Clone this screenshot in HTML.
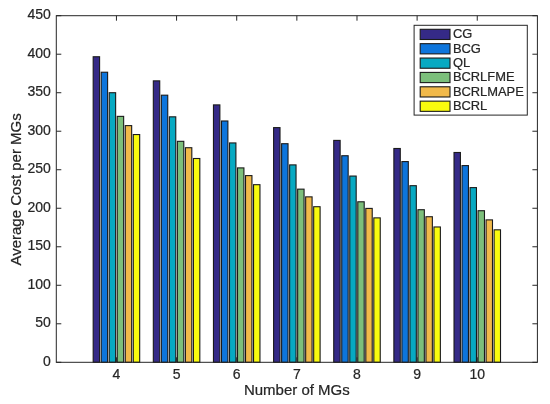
<!DOCTYPE html><html><head><meta charset="utf-8"><style>html,body{margin:0;padding:0;background:#fff;}svg{display:block;}text{font-family:"Liberation Sans", Arial, Helvetica, sans-serif;fill:#262626;stroke:#262626;stroke-width:0.22px;}</style></head><body>
<svg width="550" height="404" viewBox="0 0 550 404">
<rect x="0" y="0" width="550" height="404" fill="#fff"/>
<rect x="93.18" y="56.75" width="6.41" height="305.55" fill="#352a87" stroke="#1a1a1a" stroke-width="1.1"/>
<rect x="101.20" y="72.23" width="6.41" height="290.07" fill="#0d75dc" stroke="#1a1a1a" stroke-width="1.1"/>
<rect x="109.22" y="92.72" width="6.41" height="269.58" fill="#07a9c2" stroke="#1a1a1a" stroke-width="1.1"/>
<rect x="117.24" y="116.37" width="6.41" height="245.93" fill="#7cbf7b" stroke="#1a1a1a" stroke-width="1.1"/>
<rect x="125.26" y="125.61" width="6.41" height="236.69" fill="#f1b94a" stroke="#1a1a1a" stroke-width="1.1"/>
<rect x="133.28" y="134.55" width="6.41" height="227.75" fill="#f9fb0e" stroke="#1a1a1a" stroke-width="1.1"/>
<rect x="153.32" y="80.86" width="6.41" height="281.44" fill="#352a87" stroke="#1a1a1a" stroke-width="1.1"/>
<rect x="161.34" y="95.19" width="6.41" height="267.11" fill="#0d75dc" stroke="#1a1a1a" stroke-width="1.1"/>
<rect x="169.36" y="116.83" width="6.41" height="245.47" fill="#07a9c2" stroke="#1a1a1a" stroke-width="1.1"/>
<rect x="177.38" y="141.32" width="6.41" height="220.98" fill="#7cbf7b" stroke="#1a1a1a" stroke-width="1.1"/>
<rect x="185.40" y="147.72" width="6.41" height="214.58" fill="#f1b94a" stroke="#1a1a1a" stroke-width="1.1"/>
<rect x="193.41" y="158.50" width="6.41" height="203.80" fill="#f9fb0e" stroke="#1a1a1a" stroke-width="1.1"/>
<rect x="213.46" y="104.89" width="6.41" height="257.41" fill="#352a87" stroke="#1a1a1a" stroke-width="1.1"/>
<rect x="221.48" y="120.99" width="6.41" height="241.31" fill="#0d75dc" stroke="#1a1a1a" stroke-width="1.1"/>
<rect x="229.50" y="142.94" width="6.41" height="219.36" fill="#07a9c2" stroke="#1a1a1a" stroke-width="1.1"/>
<rect x="237.51" y="167.90" width="6.41" height="194.40" fill="#7cbf7b" stroke="#1a1a1a" stroke-width="1.1"/>
<rect x="245.53" y="175.60" width="6.41" height="186.70" fill="#f1b94a" stroke="#1a1a1a" stroke-width="1.1"/>
<rect x="253.55" y="184.69" width="6.41" height="177.61" fill="#f9fb0e" stroke="#1a1a1a" stroke-width="1.1"/>
<rect x="273.60" y="127.61" width="6.41" height="234.69" fill="#352a87" stroke="#1a1a1a" stroke-width="1.1"/>
<rect x="281.62" y="143.71" width="6.41" height="218.59" fill="#0d75dc" stroke="#1a1a1a" stroke-width="1.1"/>
<rect x="289.63" y="164.89" width="6.41" height="197.41" fill="#07a9c2" stroke="#1a1a1a" stroke-width="1.1"/>
<rect x="297.65" y="189.15" width="6.41" height="173.15" fill="#7cbf7b" stroke="#1a1a1a" stroke-width="1.1"/>
<rect x="305.67" y="196.86" width="6.41" height="165.44" fill="#f1b94a" stroke="#1a1a1a" stroke-width="1.1"/>
<rect x="313.69" y="206.72" width="6.41" height="155.58" fill="#f9fb0e" stroke="#1a1a1a" stroke-width="1.1"/>
<rect x="333.73" y="140.40" width="6.41" height="221.90" fill="#352a87" stroke="#1a1a1a" stroke-width="1.1"/>
<rect x="341.75" y="155.73" width="6.41" height="206.57" fill="#0d75dc" stroke="#1a1a1a" stroke-width="1.1"/>
<rect x="349.77" y="176.06" width="6.41" height="186.24" fill="#07a9c2" stroke="#1a1a1a" stroke-width="1.1"/>
<rect x="357.79" y="201.79" width="6.41" height="160.51" fill="#7cbf7b" stroke="#1a1a1a" stroke-width="1.1"/>
<rect x="365.81" y="208.41" width="6.41" height="153.89" fill="#f1b94a" stroke="#1a1a1a" stroke-width="1.1"/>
<rect x="373.83" y="217.88" width="6.41" height="144.42" fill="#f9fb0e" stroke="#1a1a1a" stroke-width="1.1"/>
<rect x="393.87" y="148.49" width="6.41" height="213.81" fill="#352a87" stroke="#1a1a1a" stroke-width="1.1"/>
<rect x="401.89" y="161.58" width="6.41" height="200.72" fill="#0d75dc" stroke="#1a1a1a" stroke-width="1.1"/>
<rect x="409.91" y="185.69" width="6.41" height="176.61" fill="#07a9c2" stroke="#1a1a1a" stroke-width="1.1"/>
<rect x="417.93" y="209.72" width="6.41" height="152.58" fill="#7cbf7b" stroke="#1a1a1a" stroke-width="1.1"/>
<rect x="425.95" y="216.73" width="6.41" height="145.57" fill="#f1b94a" stroke="#1a1a1a" stroke-width="1.1"/>
<rect x="433.96" y="226.97" width="6.41" height="135.33" fill="#f9fb0e" stroke="#1a1a1a" stroke-width="1.1"/>
<rect x="454.01" y="152.49" width="6.41" height="209.81" fill="#352a87" stroke="#1a1a1a" stroke-width="1.1"/>
<rect x="462.03" y="165.59" width="6.41" height="196.71" fill="#0d75dc" stroke="#1a1a1a" stroke-width="1.1"/>
<rect x="470.05" y="187.61" width="6.41" height="174.69" fill="#07a9c2" stroke="#1a1a1a" stroke-width="1.1"/>
<rect x="478.06" y="210.72" width="6.41" height="151.58" fill="#7cbf7b" stroke="#1a1a1a" stroke-width="1.1"/>
<rect x="486.08" y="219.89" width="6.41" height="142.41" fill="#f1b94a" stroke="#1a1a1a" stroke-width="1.1"/>
<rect x="494.10" y="229.82" width="6.41" height="132.48" fill="#f9fb0e" stroke="#1a1a1a" stroke-width="1.1"/>
<rect x="56.30" y="15.70" width="481.10" height="346.60" fill="none" stroke="#262626" stroke-width="1"/>
<line x1="56.30" y1="362.30" x2="61.30" y2="362.30" stroke="#262626" stroke-width="1"/>
<line x1="537.40" y1="362.30" x2="532.40" y2="362.30" stroke="#262626" stroke-width="1"/>
<text x="50.80" y="365.80" font-size="14" text-anchor="end">0</text>
<line x1="56.30" y1="323.79" x2="61.30" y2="323.79" stroke="#262626" stroke-width="1"/>
<line x1="537.40" y1="323.79" x2="532.40" y2="323.79" stroke="#262626" stroke-width="1"/>
<text x="50.80" y="327.29" font-size="14" text-anchor="end">50</text>
<line x1="56.30" y1="285.28" x2="61.30" y2="285.28" stroke="#262626" stroke-width="1"/>
<line x1="537.40" y1="285.28" x2="532.40" y2="285.28" stroke="#262626" stroke-width="1"/>
<text x="50.80" y="288.78" font-size="14" text-anchor="end">100</text>
<line x1="56.30" y1="246.77" x2="61.30" y2="246.77" stroke="#262626" stroke-width="1"/>
<line x1="537.40" y1="246.77" x2="532.40" y2="246.77" stroke="#262626" stroke-width="1"/>
<text x="50.80" y="250.27" font-size="14" text-anchor="end">150</text>
<line x1="56.30" y1="208.26" x2="61.30" y2="208.26" stroke="#262626" stroke-width="1"/>
<line x1="537.40" y1="208.26" x2="532.40" y2="208.26" stroke="#262626" stroke-width="1"/>
<text x="50.80" y="211.76" font-size="14" text-anchor="end">200</text>
<line x1="56.30" y1="169.74" x2="61.30" y2="169.74" stroke="#262626" stroke-width="1"/>
<line x1="537.40" y1="169.74" x2="532.40" y2="169.74" stroke="#262626" stroke-width="1"/>
<text x="50.80" y="173.24" font-size="14" text-anchor="end">250</text>
<line x1="56.30" y1="131.23" x2="61.30" y2="131.23" stroke="#262626" stroke-width="1"/>
<line x1="537.40" y1="131.23" x2="532.40" y2="131.23" stroke="#262626" stroke-width="1"/>
<text x="50.80" y="134.73" font-size="14" text-anchor="end">300</text>
<line x1="56.30" y1="92.72" x2="61.30" y2="92.72" stroke="#262626" stroke-width="1"/>
<line x1="537.40" y1="92.72" x2="532.40" y2="92.72" stroke="#262626" stroke-width="1"/>
<text x="50.80" y="96.22" font-size="14" text-anchor="end">350</text>
<line x1="56.30" y1="54.21" x2="61.30" y2="54.21" stroke="#262626" stroke-width="1"/>
<line x1="537.40" y1="54.21" x2="532.40" y2="54.21" stroke="#262626" stroke-width="1"/>
<text x="50.80" y="57.71" font-size="14" text-anchor="end">400</text>
<line x1="56.30" y1="15.70" x2="61.30" y2="15.70" stroke="#262626" stroke-width="1"/>
<line x1="537.40" y1="15.70" x2="532.40" y2="15.70" stroke="#262626" stroke-width="1"/>
<text x="50.80" y="19.20" font-size="14" text-anchor="end">450</text>
<line x1="116.44" y1="362.30" x2="116.44" y2="357.30" stroke="#262626" stroke-width="1"/>
<line x1="116.44" y1="15.70" x2="116.44" y2="20.70" stroke="#262626" stroke-width="1"/>
<text x="116.44" y="378.50" font-size="14" text-anchor="middle">4</text>
<line x1="176.57" y1="362.30" x2="176.57" y2="357.30" stroke="#262626" stroke-width="1"/>
<line x1="176.57" y1="15.70" x2="176.57" y2="20.70" stroke="#262626" stroke-width="1"/>
<text x="176.57" y="378.50" font-size="14" text-anchor="middle">5</text>
<line x1="236.71" y1="362.30" x2="236.71" y2="357.30" stroke="#262626" stroke-width="1"/>
<line x1="236.71" y1="15.70" x2="236.71" y2="20.70" stroke="#262626" stroke-width="1"/>
<text x="236.71" y="378.50" font-size="14" text-anchor="middle">6</text>
<line x1="296.85" y1="362.30" x2="296.85" y2="357.30" stroke="#262626" stroke-width="1"/>
<line x1="296.85" y1="15.70" x2="296.85" y2="20.70" stroke="#262626" stroke-width="1"/>
<text x="296.85" y="378.50" font-size="14" text-anchor="middle">7</text>
<line x1="356.99" y1="362.30" x2="356.99" y2="357.30" stroke="#262626" stroke-width="1"/>
<line x1="356.99" y1="15.70" x2="356.99" y2="20.70" stroke="#262626" stroke-width="1"/>
<text x="356.99" y="378.50" font-size="14" text-anchor="middle">8</text>
<line x1="417.12" y1="362.30" x2="417.12" y2="357.30" stroke="#262626" stroke-width="1"/>
<line x1="417.12" y1="15.70" x2="417.12" y2="20.70" stroke="#262626" stroke-width="1"/>
<text x="417.12" y="378.50" font-size="14" text-anchor="middle">9</text>
<line x1="477.26" y1="362.30" x2="477.26" y2="357.30" stroke="#262626" stroke-width="1"/>
<line x1="477.26" y1="15.70" x2="477.26" y2="20.70" stroke="#262626" stroke-width="1"/>
<text x="477.26" y="378.50" font-size="14" text-anchor="middle">10</text>
<text x="296.85" y="394.8" font-size="15.0" text-anchor="middle">Number of MGs</text>
<text transform="translate(21.0 189.40) rotate(-90)" x="0" y="0" font-size="15.0" text-anchor="middle">Average Cost per MGs</text>
<rect x="414.1" y="25.3" width="113.20" height="89.80" fill="#fff" stroke="#262626" stroke-width="1"/>
<rect x="420.2" y="29.30" width="29.8" height="10.2" fill="#352a87" stroke="#1a1a1a" stroke-width="1.1"/>
<text x="452.9" y="38.20" font-size="12.9">CG</text>
<rect x="420.2" y="43.67" width="29.8" height="10.2" fill="#0d75dc" stroke="#1a1a1a" stroke-width="1.1"/>
<text x="452.9" y="52.57" font-size="12.9">BCG</text>
<rect x="420.2" y="58.04" width="29.8" height="10.2" fill="#07a9c2" stroke="#1a1a1a" stroke-width="1.1"/>
<text x="452.9" y="66.94" font-size="12.9">QL</text>
<rect x="420.2" y="72.41" width="29.8" height="10.2" fill="#7cbf7b" stroke="#1a1a1a" stroke-width="1.1"/>
<text x="452.9" y="81.31" font-size="12.9">BCRLFME</text>
<rect x="420.2" y="86.78" width="29.8" height="10.2" fill="#f1b94a" stroke="#1a1a1a" stroke-width="1.1"/>
<text x="452.9" y="95.68" font-size="12.9">BCRLMAPE</text>
<rect x="420.2" y="101.15" width="29.8" height="10.2" fill="#f9fb0e" stroke="#1a1a1a" stroke-width="1.1"/>
<text x="452.9" y="110.05" font-size="12.9">BCRL</text>
</svg></body></html>
